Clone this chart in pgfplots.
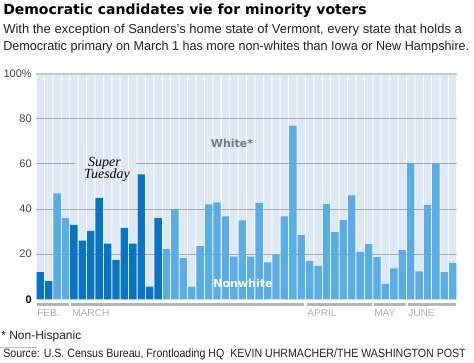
\documentclass[border=0pt]{standalone}
\usepackage{fontspec}
\setmainfont{Liberation Sans}
\newfontfamily\dejavu{DejaVu Sans}
\newfontfamily\serifit{Liberation Serif}
\newfontfamily\narrowA{Liberation Sans}[FakeStretch=0.97]
\newfontfamily\narrowB{Liberation Sans}[FakeStretch=0.885]
\usepackage{pgfplots}
\pgfplotsset{compat=1.18}
\definecolor{darkb}{HTML}{0A74C4}
\definecolor{lightb}{HTML}{5AADE4}
\definecolor{bgc}{HTML}{DFE9F6}
\definecolor{gridc}{HTML}{A8A8A8}
\definecolor{topc}{HTML}{C8C8C8}
\definecolor{segc}{HTML}{B4B4B4}
\definecolor{monc}{HTML}{B0B0B0}
\definecolor{tickc}{HTML}{444444}
\definecolor{whitec}{HTML}{7A7A7A}
\definecolor{subc}{HTML}{222222}
\begin{document}
\begin{tikzpicture}
\useasboundingbox (0pt,0pt) rectangle (355.5pt,272.25pt);
\begin{axis}[
  at={(27pt,47.775pt)}, anchor=south west,
  scale only axis, width=315.75pt, height=169.2pt,
  xmin=0.5, xmax=50.5, ymin=0, ymax=100,
  clip=false,
  axis line style={draw=none},
  major tick length=0pt,
  xtick=\empty,
  ytick={0,20,40,60,80,100},
  yticklabels={\textcolor{black}{\bfseries 0},20,40,60,80,100\%},
  yticklabel style={font=\fontsize{8.25pt}{9pt}\selectfont, text=tickc, inner sep=0pt, anchor=east, xshift=-3pt},
  /pgf/number format/assume math mode=true,
]
% background columns (white share to 100%)
\addplot[ybar, bar width=5.55pt, bar shift=0pt, fill=bgc, draw=none] coordinates {
(1,100)(2,100)(3,100)(4,100)(5,100)(6,100)(7,100)(8,100)(9,100)(10,100)
(11,100)(12,100)(13,100)(14,100)(15,100)(16,100)(17,100)(18,100)(19,100)(20,100)
(21,100)(22,100)(23,100)(24,100)(25,100)(26,100)(27,100)(28,100)(29,100)(30,100)
(31,100)(32,100)(33,100)(34,100)(35,100)(36,100)(37,100)(38,100)(39,100)(40,100)
(41,100)(42,100)(43,100)(44,100)(45,100)(46,100)(47,100)(48,100)(49,100)(50,100)};
% grid lines
\draw[gridc, line width=0.75pt] (axis cs:0.5,20) -- (axis cs:50.5,20);
\draw[gridc, line width=0.75pt] (axis cs:0.5,40) -- (axis cs:50.5,40);
\draw[gridc, line width=0.75pt] (axis cs:0.5,60) -- (axis cs:5.13,60);
\draw[gridc, line width=0.75pt] (axis cs:12.38,60) -- (axis cs:50.5,60);
\draw[gridc, line width=0.75pt] (axis cs:0.5,80) -- (axis cs:50.5,80);
\draw[topc, line width=1.6pt] (axis cs:0.5,100) -- (axis cs:50.5,100);
% nonwhite share
\addplot[ybar, bar width=5.55pt, bar shift=0pt, fill=darkb, draw=none] coordinates {
(1,12)(2,8)(5,33)(6,26)(7,30.3)(8,45)(9,24.7)(10,17.5)(11,31.7)(12,24.7)(13,55.4)(14,5.6)(15,36)};
\addplot[ybar, bar width=5.55pt, bar shift=0pt, fill=lightb, draw=none] coordinates {
(3,47)(4,36)(16,22.2)(17,40)(18,18.3)(19,5.6)(20,23.6)(21,42.1)(22,43)(23,36.8)
(24,18.9)(25,35)(26,18.9)(27,42.7)(28,16.4)(29,19.8)(30,36.8)(31,77)(32,28.4)(33,17)
(34,14.8)(35,42.2)(36,29.8)(37,35.1)(38,46.1)(39,21)(40,24.5)(41,18.7)(42,6.8)(43,13.7)
(44,21.8)(45,60.4)(46,12.4)(47,41.8)(48,60)(49,12)(50,16)};
% month segments
\draw[segc, line width=2.2pt] (axis cs:0.58,-2.1) -- (axis cs:4.36,-2.1);
\draw[segc, line width=2.2pt] (axis cs:4.66,-2.1) -- (axis cs:32.37,-2.1);
\draw[segc, line width=2.2pt] (axis cs:32.65,-2.1) -- (axis cs:40.37,-2.1);
\draw[segc, line width=2.2pt] (axis cs:40.64,-2.1) -- (axis cs:44.44,-2.1);
\draw[segc, line width=2.2pt] (axis cs:44.72,-2.1) -- (axis cs:50.38,-2.1);
\end{axis}
\begin{scope}[x=0.75pt,y=0.75pt]
% month labels
\begin{scope}[every node/.style={anchor=base west, inner sep=0pt, text=monc, font=\fontsize{7.6pt}{9pt}\selectfont}]
\node at (37,46) {FEB.};
\node at (72,46) {MARCH};
\node at (307,46) {APRIL};
\node at (374,46) {MAY};
\node at (408,46) {JUNE};
\end{scope}
% in-chart labels
\node[inner sep=0pt, text=whitec, font=\dejavu\bfseries\fontsize{8.25pt}{9pt}\selectfont] at (232,220) {White*};
\node[inner sep=0pt, text=white, font=\dejavu\bfseries\fontsize{8.25pt}{9pt}\selectfont] at (243,80) {Nonwhite};
\node[anchor=base, inner sep=0pt, font=\serifit\itshape\fontsize{10.5pt}{12pt}\selectfont] at (104.5,196) {Super};
\node[anchor=base, inner sep=0pt, font=\serifit\itshape\fontsize{10.5pt}{12pt}\selectfont] at (107,184) {Tuesday};
% title and subtitle
\node[anchor=base west, inner sep=0pt, font=\dejavu\bfseries\fontsize{10.5pt}{12pt}\selectfont] at (3,348.7) {Democratic candidates vie for minority voters};
\node[anchor=base west, inner sep=0pt, text=subc, font=\fontsize{9.75pt}{11pt}\selectfont] at (3,329.3) {With the exception of Sanders’s home state of Vermont, every state that holds a};
\node[anchor=base west, inner sep=0pt, text=subc, font=\narrowA\fontsize{9.75pt}{11pt}\selectfont] at (3,312.3) {Democratic primary on March 1 has more non-whites than Iowa or New Hampshire.};
% footer
\node[anchor=base west, inner sep=0pt, text=subc, font=\fontsize{9pt}{10pt}\selectfont] at (1,23) {* Non-Hispanic};
\draw[black!25, line width=0.75pt] (0,15) -- (37,15);
\node[anchor=base west, inner sep=0pt, text=subc, font=\narrowB\fontsize{9pt}{10pt}\selectfont] at (3,5) {Source: U.S. Census Bureau, Frontloading HQ\ \ KEVIN UHRMACHER/THE WASHINGTON POST};
\end{scope}
\end{tikzpicture}
\end{document}
